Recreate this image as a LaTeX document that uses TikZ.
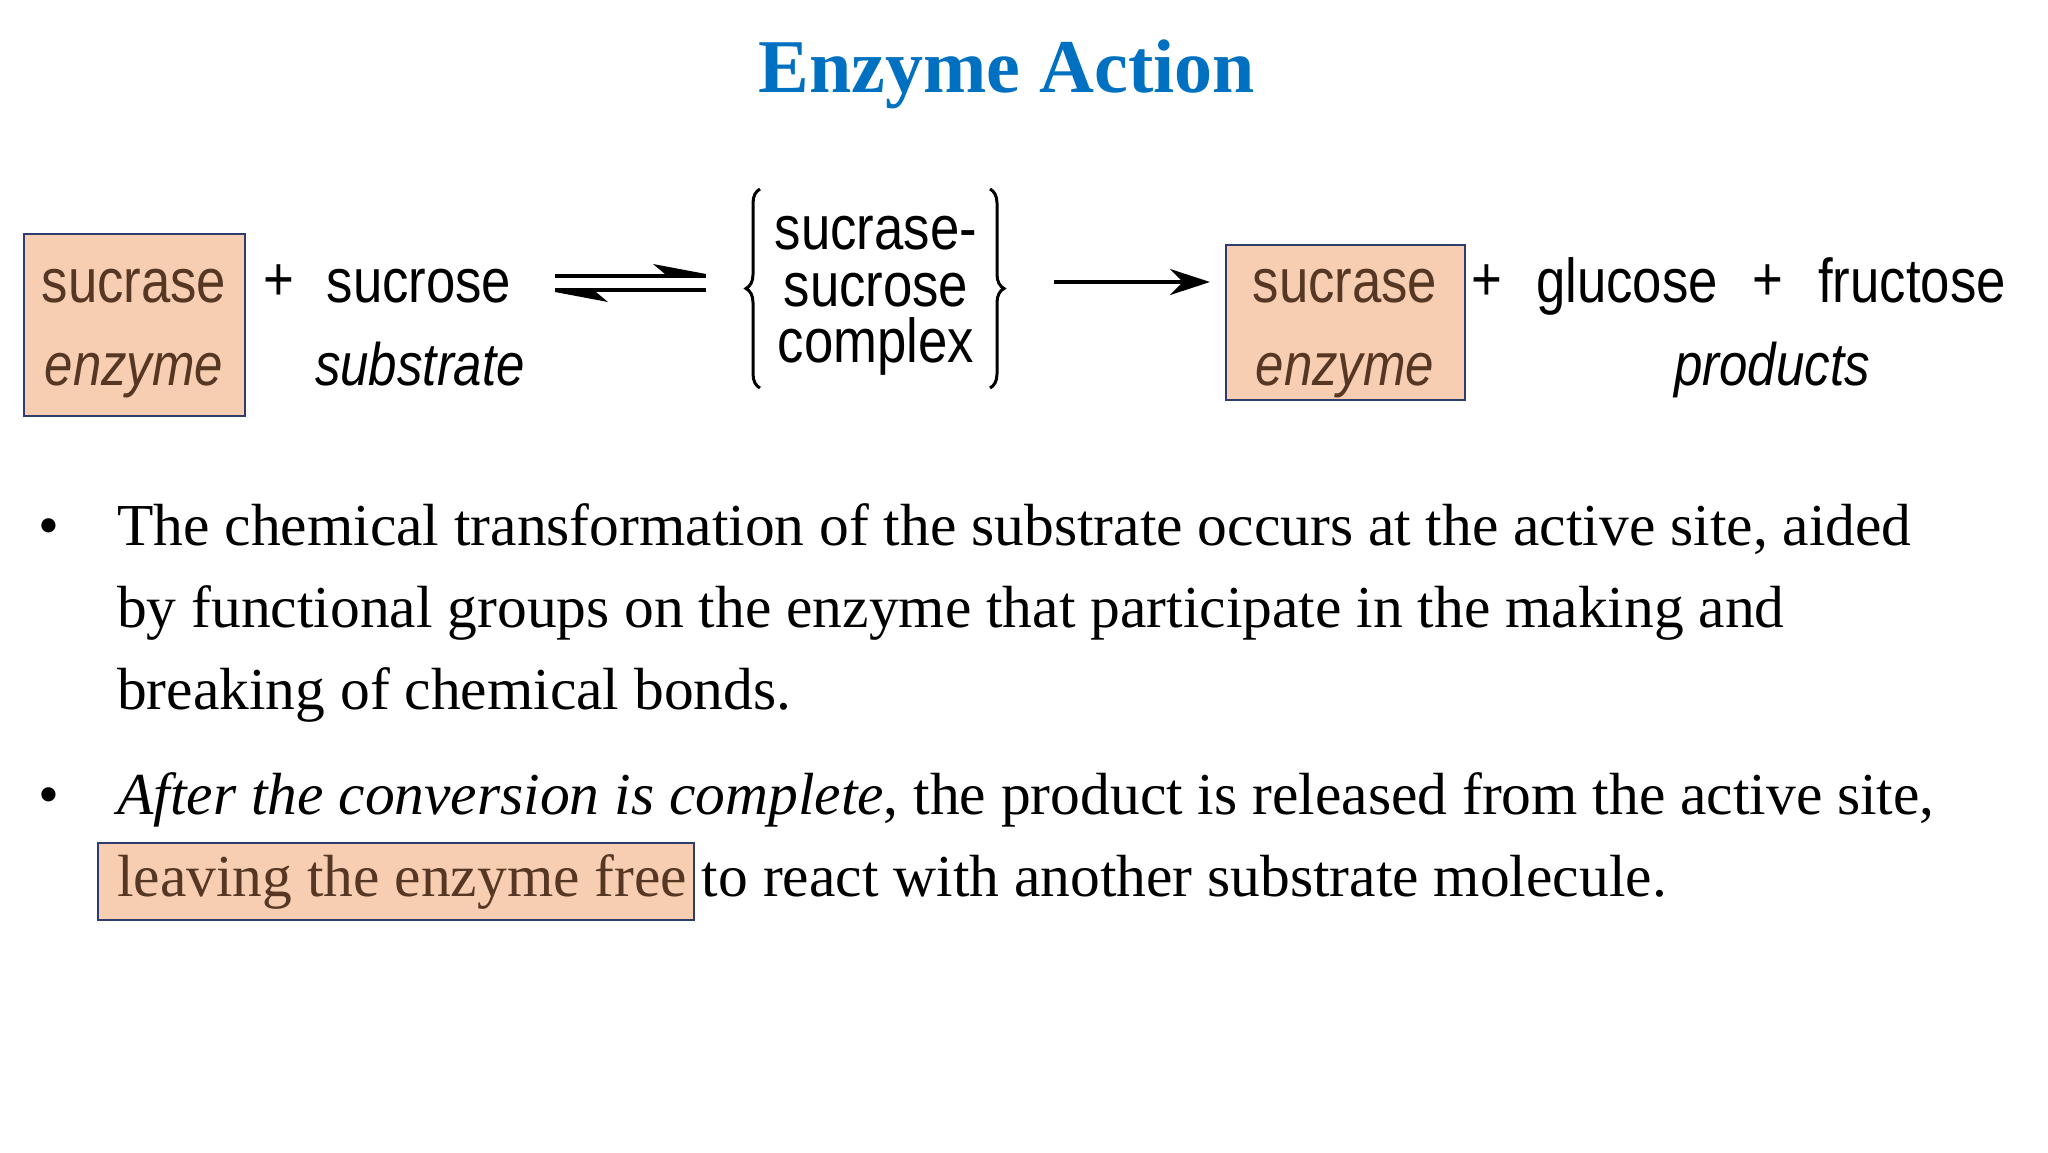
\documentclass[tikz,border=0pt]{standalone}
\usepackage{fontspec}
\setmainfont{Liberation Serif}
\newfontfamily\arialc[FakeStretch=0.85]{Liberation Sans}
\usetikzlibrary{arrows.meta,decorations.pathreplacing}
\definecolor{titleblue}{RGB}{0,112,192}
\definecolor{peach}{RGB}{248,206,178}
\definecolor{boxedge}{RGB}{47,60,110}
\definecolor{brownt}{RGB}{85,55,35}
\tikzset{
 rx/.style={font=\arialc\fontsize{62pt}{66pt}\selectfont, inner sep=0pt, anchor=base},
 rxi/.style={font=\arialc\itshape\fontsize{60pt}{66pt}\selectfont, inner sep=0pt, anchor=base},
 enzbox/.style={fill=peach, draw=boxedge, line width=2pt},
 bl/.style={font=\fontsize{59.5pt}{64pt}\selectfont, anchor=base west, inner sep=0pt},
}
\begin{document}
\begin{tikzpicture}[x=1pt,y=-1pt]
\useasboundingbox (0,0) rectangle (2048,1152);
\node[font=\bfseries\fontsize{76pt}{80pt}\selectfont, text=titleblue, anchor=base] (title) at (1007,92) {Enzyme Action};
% boxes
\draw[enzbox] (24,234) rectangle (245,416);
\draw[enzbox] (1226,245) rectangle (1465,400);
\node[rx, text=brownt] (s1) at (134,302) {sucrase};
\node[rxi, text=brownt] (e1) at (134,385) {enzyme};
\node[rx] (p1) at (279,300) {+};
\node[rx] (sub) at (419,302) {sucrose};
\node[rxi] (subl) at (420,385) {substrate};
% equilibrium arrow
\coordinate (ea) at (555,276); \coordinate (eb) at (706,276);
\coordinate (fa) at (555,290); \coordinate (fb) at (706,290);
\draw[line width=4pt] (ea) -- (eb);
\fill (706,274) -- (653,264) -- (665,274) -- cycle;
\draw[line width=4pt] (fa) -- (fb);
\fill (555,292) -- (608,302) -- (596,292) -- cycle;
% complex
\node[rx] (c1) at (876,249) {sucrase-};
\node[rx] (c2) at (876,306) {sucrose};
\node[rx] (c3) at (876,362) {complex};
\draw[line width=3pt, decorate, decoration={brace, amplitude=14pt}] (760,388) -- (760,189);
\draw[line width=3pt, decorate, decoration={brace, amplitude=14pt}] (990,189) -- (990,388);
\coordinate (aa) at (1054,282); \coordinate (ab) at (1210,282);
\draw[line width=4pt, -{Stealth[length=40pt,width=26pt]}] (aa) -- (ab);
\node[rx, text=brownt] (s2) at (1345,302) {sucrase};
\node[rxi, text=brownt] (e2) at (1345,385) {enzyme};
\node[rx] (p2) at (1487,300) {+};
\node[rx] (g) at (1627,302) {glucose};
\node[rx] (p3) at (1768,300) {+};
\node[rx] (f) at (1912,302) {fructose};
\node[rxi] (pr) at (1772,385) {products};
% bullets
\draw[fill=peach, draw=boxedge, line width=2pt] (98,843) rectangle (694,920);
\node[bl] (b1) at (38,545) {•};
\node[bl] (l1) at (117,545) {The chemical transformation of the substrate occurs at the active site, aided};
\node[bl] (l2) at (117,627) {by functional groups on the enzyme that participate in the making and};
\node[bl] (l3) at (117,709) {breaking of chemical bonds.};
\node[bl] (b2) at (38,814) {•};
\node[bl] (l4) at (117,814) {\textit{After the conversion is complete}, the product is released from the active site,};
\node[bl] (l5) at (117,896) {\textcolor{brownt}{leaving the enzyme free} to react with another substrate molecule.};
\end{tikzpicture}
\end{document}
